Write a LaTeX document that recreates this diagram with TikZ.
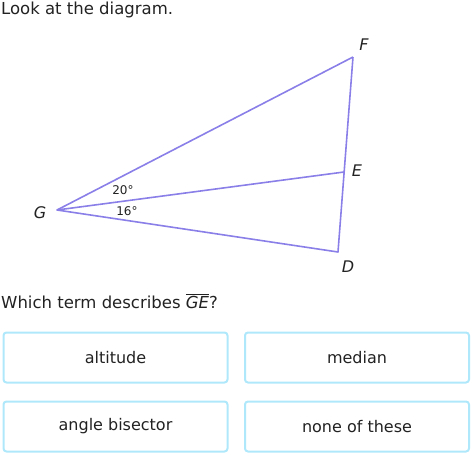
\documentclass[tikz,border=0pt]{standalone}
\usepackage{fontspec}
\setmainfont{DejaVu Sans}
\definecolor{linec}{HTML}{8A7FE8}
\definecolor{boxc}{HTML}{B0E8FB}
\definecolor{textc}{HTML}{222222}
\begin{document}
\begin{tikzpicture}[x=1pt,y=-1pt,
  txt/.style={inner sep=0pt, text=textc, font=\fontsize{16.5}{19}\selectfont},
  ptlabel/.style={inner sep=0pt, text=textc, font=\fontsize{16}{19}\selectfont\itshape},
  anglab/.style={inner sep=0pt, text=textc, font=\fontsize{12}{14}\selectfont},
  seg/.style={draw=linec, line width=1.6pt},
  choice/.style={draw=boxc, line width=2pt, rounded corners=3pt, minimum width=224pt, minimum height=50pt, inner sep=0pt, text=textc, font=\fontsize{16}{19}\selectfont}]
\useasboundingbox (0,0) rectangle (472,455);
\node[txt, anchor=base west] (title) at (1,14) {Look at the diagram.};
\coordinate (G) at (57,210);
\coordinate (F) at (353,57);
\coordinate (E) at (344,172);
\coordinate (D) at (338,252);
\draw[seg, line join=round] (F) -- (G) -- (D) -- (F);
\draw[seg] (G) -- (E);
\node[ptlabel] (lF) at (364,45) {F};
\node[ptlabel] (lE) at (357,171) {E};
\node[ptlabel] (lG) at (40,213) {G};
\node[ptlabel] (lD) at (348,267) {D};
\node[anglab] (a20) at (123,190) {20°};
\node[anglab] (a16) at (127,211) {16°};
\node[txt, anchor=base west] (q) at (1,308) {Which term describes \textit{$\overline{\mbox{\textit{GE}}}$}?};
\node[choice] (c1) at (115.5,357.5) {altitude};
\node[choice] (c2) at (357,357.5) {median};
\node[choice] (c3) at (115.5,426.5) {angle bisector};
\node[choice] (c4) at (357,426.5) {none of these};
\end{tikzpicture}
\end{document}
